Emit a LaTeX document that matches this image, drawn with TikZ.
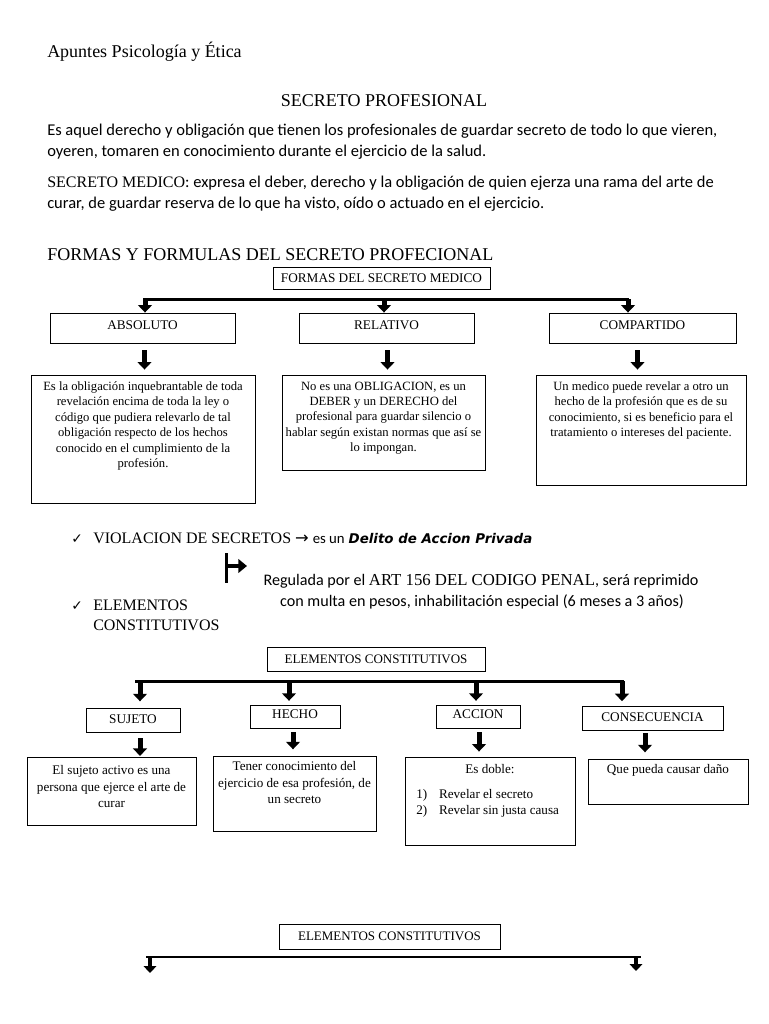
\documentclass[tikz,border=0pt]{standalone}
\usepackage{fontspec}
\setmainfont{Liberation Serif}
\newfontfamily\calfont{Carlito}
\newfontfamily\symfont{DejaVu Sans}
\newfontfamily\handfont{DejaVu Sans}
\usetikzlibrary{arrows.meta,fit,calc}
\begin{document}
\begin{tikzpicture}[x=0.8pt,y=-0.8pt,
  box/.style={draw,line width=0.7pt,inner sep=0pt},
  lbl/.style={font=\fontsize{10.6}{12}\selectfont},
  lblc/.style={font=\fontsize{10.4}{12}\selectfont},
  lblb/.style={font=\fontsize{10.6}{12}\selectfont},
  desc/.style={anchor=north,align=center,inner sep=0pt,font=\fontsize{10.1}{12.3}\selectfont},
  descb/.style={anchor=north,align=center,inner sep=0pt,font=\fontsize{10.5}{13.2}\selectfont},
  ptxt/.style={anchor=base west,inner sep=0pt},
  bar/.style={line width=2.4pt},
  barthin/.style={line width=1.8pt},
  arr/.style={line width=4pt,-{Triangle[width=11pt,length=6pt]}},
  arrs/.style={line width=3.4pt,-{Triangle[width=10pt,length=5.5pt]}},
]
\useasboundingbox[fill=white] (0,0) rectangle (768,1024);

% ---------- header text ----------
\node[ptxt,font=\fontsize{14.4}{16}\selectfont] (t1) at (47,58) {Apuntes Psicología y Ética};
\node[anchor=base,inner sep=0pt,font=\fontsize{14.4}{16}\selectfont] (t2) at (384,107) {SECRETO PROFESIONAL};
\node[ptxt,font=\calfont\fontsize{13.2}{15}\selectfont] (t3) at (47,136) {Es aquel derecho y obligación que tienen los profesionales de guardar secreto de todo lo que vieren,};
\node[ptxt,font=\calfont\fontsize{13.2}{15}\selectfont] (t4) at (47,157) {oyeren, tomaren en conocimiento durante el ejercicio de la salud.};
\node[ptxt,font=\fontsize{12.8}{15}\selectfont] (t5) at (47,188) {SECRETO MEDICO{\calfont\fontsize{13.2}{15}\selectfont: expresa el deber, derecho y la obligación de quien ejerza una rama del arte de}};
\node[ptxt,font=\calfont\fontsize{13.2}{15}\selectfont] (t6) at (47,209) {curar, de guardar reserva de lo que ha visto, oído o actuado en el ejercicio.};
\node[ptxt,font=\fontsize{14.4}{16}\selectfont] (t7) at (47,261) {FORMAS Y FORMULAS DEL SECRETO PROFECIONAL};

% ---------- formas del secreto medico ----------
\node[box,fit={(273,267) (490,289)}] (fsm) {};
\node[lbl,inner sep=0pt] (fsmt) at (fsm.center) {FORMAS DEL SECRETO MEDICO};

\coordinate (fL) at (143,299);
\coordinate (fR) at (629,299);
\coordinate (f1) at (145,299);
\coordinate (f2) at (384,299);
\coordinate (f3) at (628,299);
\draw[bar] (fL) -- (fR);

\node[box,fit={(50,313) (235,343)}] (abs) {};
\node[lbl,inner sep=0pt] (abst) at ($(abs.center)+(0,-3)$) {ABSOLUTO};
\node[box,fit={(299,313) (474,343)}] (rel) {};
\node[lbl,inner sep=0pt] (relt) at ($(rel.center)+(0,-3)$) {RELATIVO};
\node[box,fit={(549,313) (736,343)}] (com) {};
\node[lbl,inner sep=0pt] (comt) at ($(com.center)+(0,-3)$) {COMPARTIDO};

\draw[arr] (f1) -- (f1 |- abs.north);
\draw[arr] (f2) -- (f2 |- rel.north);
\draw[arr] (f3) -- (f3 |- com.north);

\node[box,fit={(31,375) (255,503)}] (absd) {};
\node[box,fit={(282,375) (485,470)}] (reld) {};
\node[box,fit={(536,375) (746,485)}] (comd) {};

\draw[arr,shorten <=5.6pt,shorten >=4pt] ($(abs.south)+(2,0)$) -- ($(abs.south |- absd.north)+(2,0)$);
\draw[arr,shorten <=5.6pt,shorten >=4pt] ($(rel.south)+(1,0)$) -- ($(rel.south |- reld.north)+(1,0)$);
\draw[arr,shorten <=5.6pt,shorten >=4pt] ($(com.south)+(-5,0)$) -- ($(com.south |- comd.north)+(-5,0)$);

\node[desc] (absdt) at ($(absd.north)+(0,7)$) {Es la obligación inquebrantable de toda\\revelación encima de toda la ley o\\código que pudiera relevarlo de tal\\obligación respecto de los hechos\\conocido en el cumplimiento de la\\profesión.};
\node[desc] (reldt) at ($(reld.north)+(0,7)$) {No es una OBLIGACION, es un\\DEBER y un DERECHO del\\profesional para guardar silencio o\\hablar según existan normas que así se\\lo impongan.};
\node[desc] (comdt) at ($(comd.north)+(0,7)$) {Un medico puede revelar a otro un\\hecho de la profesión que es de su\\conocimiento, si es beneficio para el\\tratamiento o intereses del paciente.};

% ---------- violacion de secretos ----------
\node[ptxt,font=\symfont\fontsize{11}{13}\selectfont] (ck1) at (71,543) {✓};
\node[ptxt,font=\fontsize{12.8}{15}\selectfont] (v1) at (93,543) {VIOLACION DE SECRETOS {\symfont\fontsize{13}{13}\selectfont →} {\calfont\fontsize{11.8}{14}\selectfont es un} {\handfont\bfseries\itshape\fontsize{10.7}{14}\selectfont Delito de Accion Privada}};

\coordinate (tb1) at (226,553);
\coordinate (tb2) at (226,583);
\coordinate (tb3) at (226,566);
\coordinate (tb4) at (247,566);
\draw[line width=2.4pt] (tb1) -- (tb2);
\draw[line width=3pt,-{Triangle[width=11pt,length=7pt]}] (tb3) -- (tb4);

\node[anchor=base,inner sep=0pt,font=\calfont\fontsize{12.9}{15}\selectfont] (r1) at (481,585) {Regulada por el {\rmfamily\fontsize{13.4}{15}\selectfont ART 156 DEL CODIGO PENAL}, será reprimido};
\node[anchor=base,inner sep=0pt,font=\calfont\fontsize{12.9}{15}\selectfont] (r2) at (482,606) {con multa en pesos, inhabilitación especial (6 meses a 3 años)};

\node[ptxt,font=\symfont\fontsize{11}{13}\selectfont] (ck2) at (71,610) {✓};
\node[ptxt,font=\fontsize{12.8}{15}\selectfont] (e1) at (93,610) {ELEMENTOS};
\node[ptxt,font=\fontsize{12.8}{15}\selectfont] (e2) at (93,630) {CONSTITUTIVOS};

% ---------- elementos constitutivos ----------
\node[box,fit={(267,647) (485,671)}] (ec) {};
\node[lblc,inner sep=0pt] (ect) at (ec.center) {ELEMENTOS CONSTITUTIVOS};

\coordinate (gL) at (135,681);
\coordinate (gR) at (624,681);
\coordinate (g1) at (140,681);
\coordinate (g2) at (289,681);
\coordinate (g3) at (476,681);
\coordinate (g4) at (622,681);
\draw[bar] (gL) -- (gR);

\node[box,fit={(86,708) (180,732)}] (suj) {};
\node[lblb,inner sep=0pt] (sujt) at ($(suj.center)+(0,-1)$) {SUJETO};
\node[box,fit={(250,705) (340,728)}] (hec) {};
\node[lblb,inner sep=0pt] (hect) at ($(hec.center)+(0,-2)$) {HECHO};
\node[box,fit={(436,705) (520,728)}] (acc) {};
\node[lblb,inner sep=0pt] (acct) at ($(acc.center)+(0,-2)$) {ACCION};
\node[box,fit={(582,706) (723,730)}] (con) {};
\node[lblb,inner sep=0pt] (cont) at ($(con.center)+(0,-1)$) {CONSECUENCIA};

\draw[arr,shorten >=5pt] (g1) -- (g1 |- suj.north);
\draw[arr,shorten >=3pt] (g2) -- (g2 |- hec.north);
\draw[arr,shorten >=3pt] (g3) -- (g3 |- acc.north);
\draw[arr,shorten >=3.5pt] (g4) -- (g4 |- con.north);

\node[box,fit={(27,757) (196,825)}] (sujd) {};
\node[box,fit={(213,756) (376,831)}] (hecd) {};
\node[box,fit={(405,757) (575,845)}] (accd) {};
\node[box,fit={(588,759) (748,804)}] (cond) {};

\coordinate (s1) at (140,0);
\coordinate (s2) at (293,0);
\coordinate (s3) at (479,0);
\coordinate (s4) at (645,0);
\draw[arr,shorten <=4.5pt,shorten >=0.5pt] (s1 |- suj.south) -- (s1 |- sujd.north);
\draw[arr,shorten <=3.2pt,shorten >=5pt] (s2 |- hec.south) -- (s2 |- hecd.north);
\draw[arr,shorten <=3.2pt,shorten >=4pt] (s3 |- acc.south) -- (s3 |- accd.north);
\draw[arr,shorten <=2pt,shorten >=5pt] (s4 |- con.south) -- (s4 |- cond.north);

\node[descb] (sujdt) at ($(sujd.north)+(0,9)$) {El sujeto activo es una\\persona que ejerce el arte de\\curar};
\node[descb] (hecdt) at ($(hecd.north)+(0,6)$) {Tener conocimiento del\\ejercicio de esa profesión, de\\un secreto};
\node[descb] (accdt) at ($(accd.north)+(0,8)$) {Es doble:};
\node[anchor=base west,inner sep=0pt,font=\fontsize{10.5}{13}\selectfont] (acc1) at (416,798) {1)\hspace{9.5pt}Revelar el secreto};
\node[anchor=base west,inner sep=0pt,font=\fontsize{10.5}{13}\selectfont] (acc2) at (416,814) {2)\hspace{9.5pt}Revelar sin justa causa};
\node[descb] (condt) at ($(cond.north)+(0,6)$) {Que pueda causar daño};

% ---------- bottom ----------
\node[box,fit={(279,924) (500,949)}] (ec2) {};
\node[lblc,inner sep=0pt] (ec2t) at (ec2.center) {ELEMENTOS CONSTITUTIVOS};
\coordinate (hL) at (146,957);
\coordinate (hR) at (641,957);
\coordinate (h1) at (150,957);
\coordinate (h2) at (636,957);
\coordinate (h1e) at (150,973);
\coordinate (h2e) at (636,971);
\draw[barthin] (hL) -- (hR);
\draw[arrs] (h1) -- (h1e);
\draw[arrs] (h2) -- (h2e);
\end{tikzpicture}
\end{document}
